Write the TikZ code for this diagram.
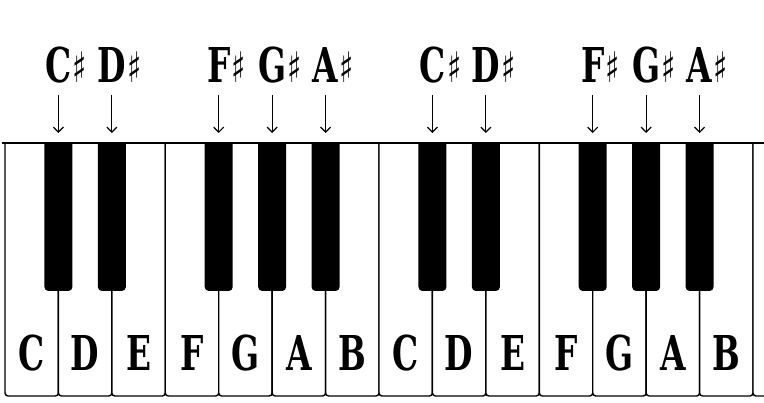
\documentclass[tikz,border=0pt]{standalone}
\usepackage{fontspec}
\newfontfamily\keyfont{DejaVu Serif Condensed}
\newfontfamily\symfont{DejaVu Sans}
\usetikzlibrary{arrows.meta, positioning}

\newcommand{\narrow}[1]{\scalebox{0.76}[1]{#1}}
\newcommand{\sharpsign}{\kern1.5pt{\symfont\bfseries\fontsize{42}{42}\selectfont\scalebox{0.7}[1]{♯}}}

\begin{document}
\begin{tikzpicture}[x=1pt, y=-1pt,
    whitekey/.style={draw=black, line width=1.4pt, fill=white, rounded corners=3pt},
    blackkey/.style={fill=black, rounded corners=4pt},
    keyname/.style={font=\keyfont\bfseries\fontsize{48}{56}\selectfont, inner sep=0pt, text depth=0pt, anchor=base},
    sharpname/.style={keyname, anchor=south},
    pointer/.style={-{Straight Barb[length=5pt, width=10pt]}, line width=1.2pt, shorten <=12pt}]
    \useasboundingbox (0,0) rectangle (764,403);
    \clip (0,0) rectangle (764,403);

    % White keys
    \foreach \n [count=\i from 0] in {C,D,E,F,G,A,B,C,D,E,F,G,A,B} {
        \pgfmathsetmacro\xl{5+53.43*\i}
        \draw[whitekey] (\xl,143) -- (\xl,396) -- (\xl+53.43,396) -- (\xl+53.43,143);
        \node[keyname] (w\i) at (\xl+26.7,371) {\narrow{\n}};
    }
    % next key, cut off at the right edge
    \draw[whitekey] (753,143) -- (753,396) -- (806,396) -- (806,143);

    % Black keys with their names and pointers
    \foreach \b/\n [count=\k] in {1/C,2/D,4/F,5/G,6/A,8/C,9/D,11/F,12/G,13/A} {
        \pgfmathsetmacro\xb{5+53.43*\b}
        \fill[blackkey] (\xb-14,143) -- (\xb-14,291) -- (\xb+14,291) -- (\xb+14,143);
        \node[sharpname] (s\k) at (\xb,83) {\narrow{\n}\rlap{\sharpsign}};
        \coordinate (t\k) at (\xb,133);
        \draw[pointer] (s\k) -- (t\k);
    }

    % Top edge of the keyboard
    \draw[line width=2pt] (2,143) -- (764,143);
\end{tikzpicture}
\end{document}
